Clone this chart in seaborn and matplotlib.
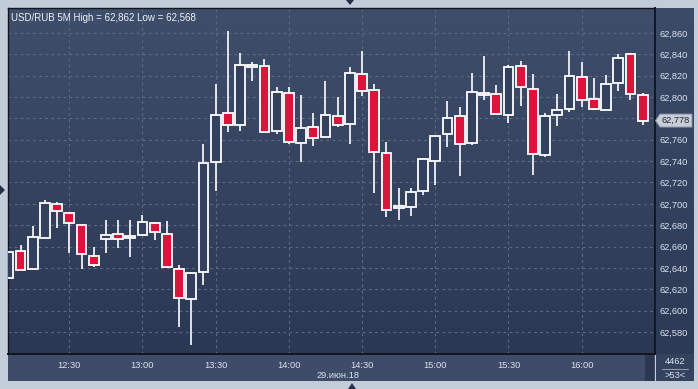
import numpy as np
import matplotlib
matplotlib.use("Agg")
import matplotlib.pyplot as plt
from matplotlib.patches import Polygon, Rectangle
from matplotlib.lines import Line2D
from matplotlib.colors import LinearSegmentedColormap
import seaborn as sns

# ---------------- data ----------------
times = ["12:05", "12:10", "12:15", "12:20", "12:25", "12:30", "12:35", "12:40", "12:45", "12:50",
         "12:55", "13:00", "13:05", "13:10", "13:15", "13:20", "13:25", "13:30", "13:35", "13:40",
         "13:45", "13:50", "13:55", "14:00", "14:05", "14:10", "14:15", "14:20", "14:25", "14:30",
         "14:35", "14:40", "14:45", "14:50", "14:55", "15:00", "15:05", "15:10", "15:15", "15:20",
         "15:25", "15:30", "15:35", "15:40", "15:45", "15:50", "15:55", "16:00", "16:05", "16:10",
         "16:15", "16:20", "16:25"]
opens = [62.631, 62.656, 62.639, 62.668, 62.700, 62.691, 62.680, 62.651, 62.667, 62.672,
         62.668, 62.671, 62.682, 62.672, 62.639, 62.611, 62.636, 62.739, 62.785, 62.774,
         62.828, 62.829, 62.768, 62.804, 62.757, 62.772, 62.763, 62.782, 62.775, 62.822,
         62.807, 62.748, 62.696, 62.697, 62.712, 62.740, 62.765, 62.782, 62.757, 62.804,
         62.803, 62.783, 62.829, 62.808, 62.746, 62.783, 62.789, 62.819, 62.798, 62.788,
         62.813, 62.840, 62.802]
highs = [62.655, 62.661, 62.679, 62.704, 62.702, 62.691, 62.680, 62.660, 62.685, 62.685,
         62.685, 62.690, 62.683, 62.684, 62.643, 62.636, 62.756, 62.812, 62.862, 62.841,
         62.833, 62.836, 62.809, 62.809, 62.802, 62.785, 62.815, 62.800, 62.828, 62.843,
         62.812, 62.758, 62.715, 62.715, 62.743, 62.764, 62.796, 62.791, 62.823, 62.838,
         62.811, 62.830, 62.834, 62.822, 62.785, 62.803, 62.843, 62.833, 62.818, 62.821,
         62.840, 62.841, 62.804]
lows = [62.631, 62.638, 62.639, 62.668, 62.677, 62.654, 62.639, 62.641, 62.654, 62.659,
        62.650, 62.671, 62.666, 62.640, 62.585, 62.568, 62.624, 62.712, 62.767, 62.768,
        62.815, 62.767, 62.765, 62.756, 62.739, 62.754, 62.763, 62.772, 62.756, 62.801,
        62.710, 62.688, 62.685, 62.689, 62.708, 62.718, 62.753, 62.726, 62.755, 62.797,
        62.784, 62.776, 62.792, 62.727, 62.744, 62.773, 62.786, 62.791, 62.788, 62.788,
        62.806, 62.797, 62.774]
closes = [62.655, 62.638, 62.669, 62.701, 62.693, 62.682, 62.653, 62.643, 62.671, 62.667,
          62.670, 62.683, 62.674, 62.641, 62.612, 62.635, 62.738, 62.783, 62.774, 62.830,
          62.830, 62.767, 62.805, 62.758, 62.771, 62.762, 62.783, 62.774, 62.823, 62.806,
          62.749, 62.694, 62.698, 62.711, 62.742, 62.764, 62.780, 62.756, 62.805, 62.802,
          62.784, 62.828, 62.809, 62.747, 62.782, 62.788, 62.820, 62.797, 62.789, 62.812,
          62.837, 62.803, 62.778]
time_ticks = ["12:30", "13:00", "13:30", "14:00", "14:30", "15:00", "15:30", "16:00"]
price_ticks = [62.58, 62.60, 62.62, 62.64, 62.66, 62.68, 62.70, 62.72, 62.74, 62.76,
               62.78, 62.80, 62.82, 62.84, 62.86]
price_labels = ["62,580", "62,600", "62,620", "62,640", "62,660", "62,680", "62,700",
                "62,720", "62,740", "62,760", "", "62,800", "62,820", "62,840", "62,860"]
title_text = "USD/RUB 5M High = 62,862 Low = 62,568"
date_text = "29.июн.18"
last_price = closes[-1]
corner_top = "4462"
corner_bottom = ">53<"

# ---------------- style ----------------
sns.set_theme(style="dark")
plt.rcParams["font.family"] = ["Liberation Sans", "DejaVu Sans"]

W, H = 698, 389
fig = plt.figure(figsize=(W / 100, H / 100), dpi=100)
fig.patch.set_facecolor("#c3cdda")

def fx(px):
    return px / W

def fy(py):
    return 1 - py / H

TXT = "#dce2ec"
FS = 6.7

# main axes
L, R, T, B = 8, 655, 8, 354
ax = fig.add_axes([fx(L), fy(B), (R - L) / W, (B - T) / H])
ax.set_facecolor("#34425f")

grad = np.linspace(0, 1, 256).reshape(-1, 1)
cmap_bg = LinearSegmentedColormap.from_list("bg", ["#3f4e6b", "#2b3853"])
ax.imshow(grad, cmap=cmap_bg, aspect="auto", extent=[0, 1, 0, 1],
          transform=ax.transAxes, zorder=0)

x = np.arange(len(times))
o = np.array(opens); h = np.array(highs); l = np.array(lows); c = np.array(closes)
up = c >= o
body_lo = np.minimum(o, c)
body_hi = np.maximum(o, c)
body_h = np.maximum(body_hi - body_lo, 0.0012)

ax.vlines(x, l, body_lo, color="white", lw=1.2, zorder=3)
ax.vlines(x, body_hi, h, color="white", lw=1.2, zorder=3)
face = np.where(up, "#33415e", "#dc143c")
ax.bar(x, body_h, bottom=body_lo, width=0.8, color=list(face), edgecolor="white",
       linewidth=1.3, zorder=4)

ax.set_xlim(-0.025, 53.01)
ax.set_ylim(62.55938, 62.88341)

tick_idx = [times.index(t) for t in time_ticks]
ax.set_xticks(tick_idx)
ax.set_xticklabels(time_ticks)
ax.set_yticks(price_ticks)
ax.set_yticklabels(price_labels)
ax.grid(True, color="#5b6a87", lw=0.8, linestyle=(0, (2.5, 3)), zorder=1)
ax.set_axisbelow(True)
ax.tick_params(axis="y", left=False, labelleft=False, right=False, labelright=True,
               length=0, pad=3, labelsize=FS, labelcolor=TXT)
ax.tick_params(axis="x", bottom=False, length=0, pad=5, labelsize=FS, labelcolor=TXT)
for s in ax.spines.values():
    s.set_visible(True)
    s.set_color("#10151f")
    s.set_linewidth(1.0)
ax.spines["right"].set_linewidth(1.4)
ax.spines["bottom"].set_linewidth(1.4)

ax.text(0.004, 0.985, title_text, transform=ax.transAxes, ha="left", va="top",
        fontsize=FS + 0.3, color="#eef2f8", zorder=6)

# right strip
axr = fig.add_axes([fx(R + 1), fy(B), (694 - R - 1) / W, (B - T) / H], zorder=-1)
cmap_r = LinearSegmentedColormap.from_list("br", ["#3c4b68", "#2c3a56"])
axr.imshow(grad, cmap=cmap_r, aspect="auto", extent=[0, 1, 0, 1], transform=axr.transAxes)
axr.set_axis_off()

# bottom strip
axb = fig.add_axes([fx(L), fy(381), (R - L) / W, (381 - B) / H], zorder=-1)
axb.set_facecolor("#3e4c69")
axb.set_xticks([]); axb.set_yticks([])
for s in axb.spines.values():
    s.set_visible(False)
fig.patches.append(Rectangle((fx(645), fy(381)), 9 / W, 26 / H, transform=fig.transFigure,
                             facecolor="#2c3853", edgecolor="none", zorder=-0.5))

# corner
axc = fig.add_axes([fx(R + 1), fy(381), (694 - R - 1) / W, (381 - B) / H], zorder=-1)
axc.set_facecolor("#34425e")
axc.set_xticks([]); axc.set_yticks([])
for s in axc.spines.values():
    s.set_visible(False)
fig.text(fx(675), fy(362), corner_top, ha="center", va="center", fontsize=FS, color=TXT)
fig.text(fx(675), fy(375), corner_bottom, ha="center", va="center", fontsize=FS, color=TXT)
fig.lines.append(Line2D([fx(662), fx(688)], [fy(368.5), fy(368.5)], transform=fig.transFigure,
                        color="#8d99ad", lw=0.8))

# date
fig.text(fx(338), fy(375), date_text, ha="center", va="center", fontsize=FS, color=TXT)

# last price marker
yy = ax.transData.transform((0, last_price))[1]
ypx = H - yy
pts = [(655.5, ypx), (660, ypx - 6.5), (692, ypx - 6.5), (692, ypx + 6.5), (660, ypx + 6.5)]
fig.patches.append(Polygon([(fx(a), fy(b)) for a, b in pts], closed=True,
                           transform=fig.transFigure, facecolor="#c9cdd5",
                           edgecolor="#8a93a5", lw=0.7, zorder=5))
fig.text(fx(661), fy(ypx), f"{last_price:.3f}".replace(".", ","), ha="left", va="center",
         fontsize=FS, color="#1c273c", zorder=6)

# small border markers
for tri in ([(346, 0), (354, 0), (350, 5)],
            [(348, 389), (356, 389), (352, 383)],
            [(0, 185), (0, 195), (5, 190)]):
    fig.patches.append(Polygon([(fx(a), fy(b)) for a, b in tri], closed=True,
                               transform=fig.transFigure, facecolor="#26304a",
                               edgecolor="none"))

fig.savefig("out.png", dpi=100, facecolor=fig.get_facecolor())
